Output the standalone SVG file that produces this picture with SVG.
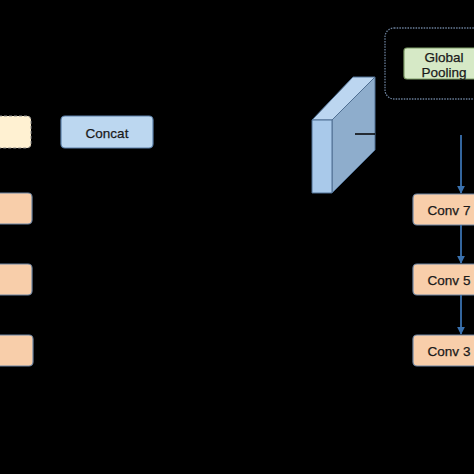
<svg xmlns="http://www.w3.org/2000/svg" width="474" height="474" viewBox="0 0 474 474">
<defs>
<style>
.conv{fill:#f8ceaa;stroke:#6f86a3;stroke-width:1.2}
.lbl{font-family:"Liberation Sans",Arial,sans-serif;font-size:13.5px;fill:#1a1a1a;text-anchor:middle;stroke:#1a1a1a;stroke-width:0.25}
.arr{stroke:#3a72b0;stroke-width:1.8;fill:none;marker-end:url(#ah)}
</style>
<marker id="ah" viewBox="0 0 10 10" refX="9" refY="5" markerWidth="4.5" markerHeight="4.5" orient="auto">
<path d="M0,0 L10,5 L0,10 z" fill="#3a72b0"/>
</marker>
</defs>
<rect x="0" y="0" width="474" height="474" fill="#000"/>
<g id="yellow-box"><rect x="-10" y="116" width="41" height="32" rx="4" fill="#fff1d2" stroke="#8a8a8a" stroke-width="1" stroke-dasharray="3,2"/></g>
<g id="concat"><rect x="61" y="116" width="92" height="32" rx="4" fill="#bcd7f0" stroke="#5a7fa8" stroke-width="1.2"/><text class="lbl" x="107" y="138">Concat</text></g>
<g id="left-conv-1"><rect class="conv" x="-10" y="193" width="42" height="31" rx="4"/></g>
<g id="left-conv-2"><rect class="conv" x="-10" y="264" width="42" height="31" rx="4"/></g>
<g id="left-conv-3"><rect class="conv" x="-10" y="335" width="43" height="31" rx="4"/></g>
<g id="pool-group"><rect x="385" y="28" width="110" height="71" rx="9" fill="none" stroke="#6a7f9a" stroke-width="1.3" stroke-dasharray="1.5,1.2"/></g>
<g id="global-pooling"><rect x="404" y="48" width="80" height="31" rx="3" fill="#d6e9c6" stroke="#7f9d68" stroke-width="1.2"/><text class="lbl" x="444" y="62">Global</text><text class="lbl" x="444" y="77">Pooling</text></g>
<g id="feature-slab" stroke="#4f6f92" stroke-width="1" stroke-linejoin="round">
<polygon points="312,120 332,120 375,77 353,77" fill="#bcd6f0"/>
<polygon points="332,120 375,77 375,150 332,193" fill="#8eadcc"/>
<rect x="312" y="120" width="20" height="73" fill="#a9c9ea"/>
<line x1="355" y1="134" x2="375" y2="134" stroke="#000" stroke-width="1.5"/>
</g>
<g id="conv7"><rect class="conv" x="413" y="194" width="70" height="31" rx="4"/><text class="lbl" x="449" y="215">Conv 7</text></g>
<g id="conv5"><rect class="conv" x="413" y="264" width="70" height="31" rx="4"/><text class="lbl" x="449" y="285">Conv 5</text></g>
<g id="conv3"><rect class="conv" x="413" y="335" width="70" height="31" rx="4"/><text class="lbl" x="449" y="356">Conv 3</text></g>
<g id="connectors">
<line class="arr" x1="461" y1="135" x2="461" y2="193"/>
<line class="arr" x1="461" y1="225" x2="461" y2="263"/>
<line class="arr" x1="461" y1="295" x2="461" y2="334"/>
</g>
</svg>
